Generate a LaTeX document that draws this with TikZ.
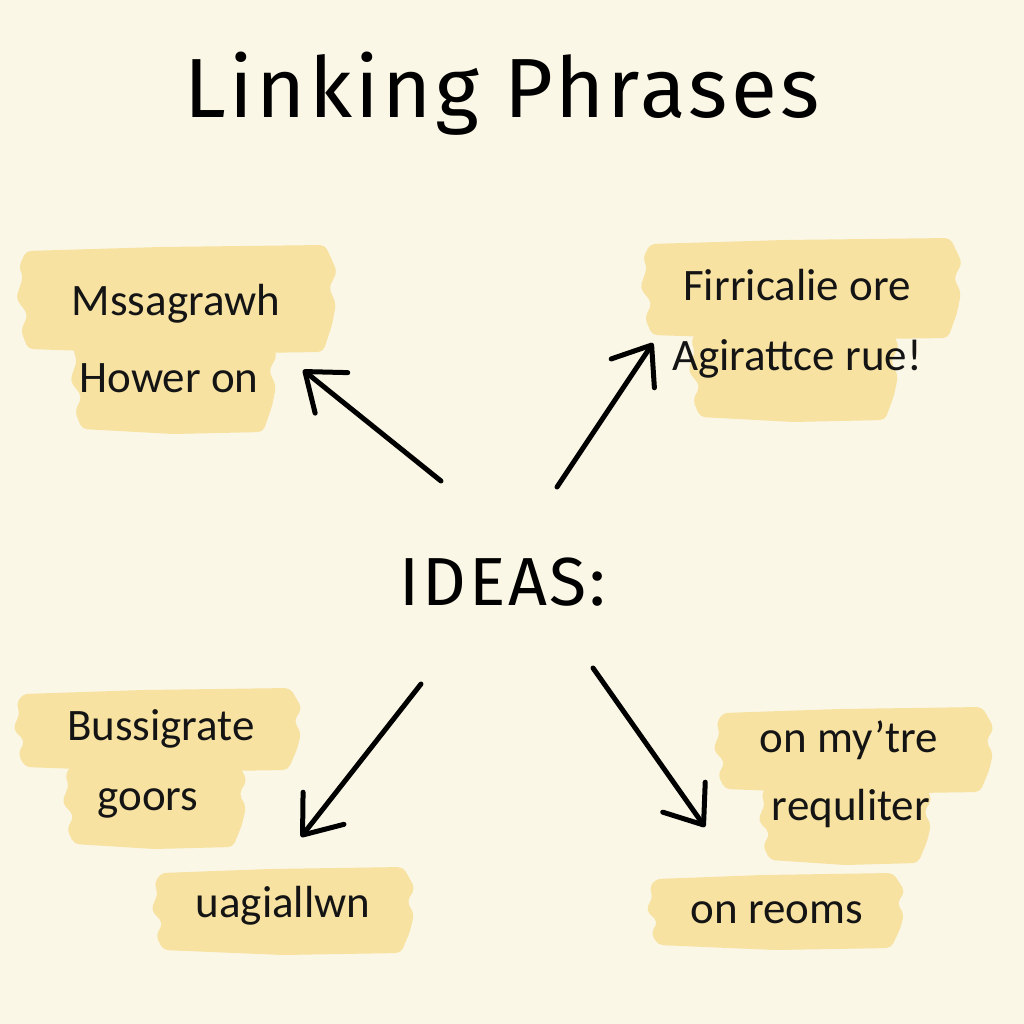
\documentclass[tikz,border=0pt]{standalone}
\usepackage{fontspec}
\setmainfont{Carlito}
\newfontfamily\titlefont[LetterSpace=4]{Fira Sans}
\usetikzlibrary{arrows.meta}
\definecolor{bgc}{HTML}{FBF7E6}
\definecolor{hl}{HTML}{F7E2A2}
% brush stroke: x1 y1 x2 y2 (y grows downward)
\newcommand{\bstroke}[4]{%
  \fill[hl, rounded corners=5pt]
    ({#1+8},{#2+6}) -- ({#1+0.45*(#3-#1)},{#2+2}) -- ({#3-10},{#2}) --
    ({#3-4},{#2+0.12*(#4-#2)}) -- ({#3+2},{#2+0.25*(#4-#2)}) --
    ({#3-6},{#2+0.4*(#4-#2)}) -- ({#3+1},{#2+0.55*(#4-#2)}) --
    ({#3-3},{#2+0.75*(#4-#2)}) -- ({#3-12},{#4}) --
    ({#1+0.5*(#3-#1)},{#4+2}) -- ({#1+10},{#4-3}) --
    ({#1+3},{#4-0.2*(#4-#2)}) -- ({#1+10},{#4-0.35*(#4-#2)}) --
    ({#1-2},{#4-0.5*(#4-#2)}) -- ({#1+5},{#4-0.7*(#4-#2)}) --
    ({#1+1},{#2+0.2*(#4-#2)}) -- cycle;}
\begin{document}
\begin{tikzpicture}[x=1pt,y=-1pt,
  lbl/.style={anchor=base, inner sep=0pt, font=\fontsize{45}{52}\selectfont, text=black!92},
  arr/.style={line width=5pt, line cap=round, -{Straight Barb[length=34pt,width=52pt,line cap=round,line join=round]}}]
\fill[bgc] (0,0) rectangle (1024,1024);
\useasboundingbox (0,0) rectangle (1024,1024);

% highlight brush strokes
\bstroke{18}{245}{335}{352}
\bstroke{72}{330}{275}{432}
\bstroke{642}{238}{960}{338}
\bstroke{690}{322}{897}{420}
\bstroke{15}{688}{300}{770}
\bstroke{64}{758}{245}{847}
\bstroke{153}{867}{413}{953}
\bstroke{715}{707}{992}{792}
\bstroke{760}{778}{930}{863}
\bstroke{648}{873}{903}{948}

% title
\node[anchor=base, inner sep=0pt, font=\titlefont\fontsize{84}{100}\selectfont] (title) at (502,118) {Linking Phrases};
% centre
\node[anchor=base, inner sep=0pt, font=\titlefont\fontsize{68}{80}\selectfont] (ideas) at (503,605) {IDEAS:};

% labels
\node[lbl] (m1) at (176,315) {Mssagrawh};
\node[lbl] (m2) at (169,392) {Hower on};
\node[lbl] (f1) at (797,300) {Firricalie ore};
\node[lbl] (f2) at (797,370) {Agirattce rue!};
\node[lbl] (b1) at (161,740) {Bussigrate};
\node[lbl] (b2) at (148,810) {goors};
\node[lbl] (u1) at (283,917) {uagiallwn};
\node[lbl] (o1) at (849,752) {on my'tre};
\node[lbl] (o2) at (851,820) {requliter};
\node[lbl] (o3) at (777,923) {on reoms};

% arrow endpoints
\coordinate (s1) at (441,481); \coordinate (t1) at (303,370);
\coordinate (s2) at (557,487); \coordinate (t2) at (653,343);
\coordinate (s3) at (421,684); \coordinate (t3) at (301,837);
\coordinate (s4) at (593,668); \coordinate (t4) at (705,827);
\draw[arr] (s1) -- (t1);
\draw[arr] (s2) -- (t2);
\draw[arr] (s3) -- (t3);
\draw[arr] (s4) -- (t4);
\end{tikzpicture}
\end{document}
